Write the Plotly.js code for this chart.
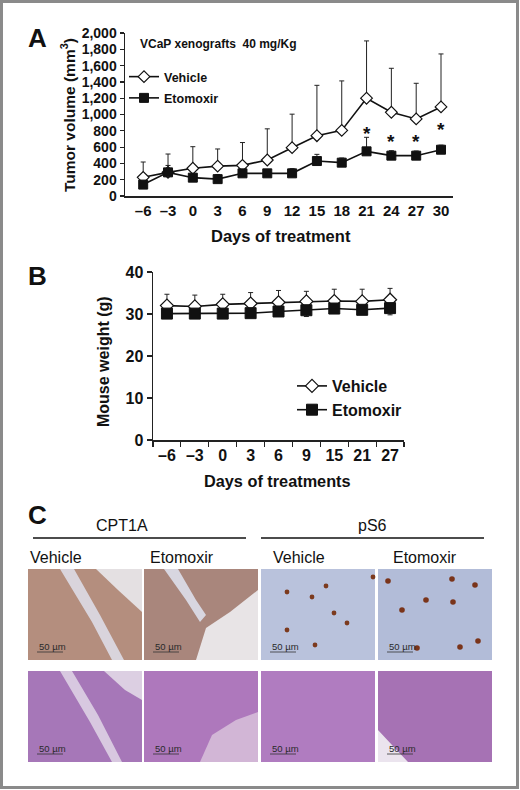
<!DOCTYPE html>
<html>
<head>
<meta charset="utf-8">
<script src="https://cdn.plot.ly/plotly-3.0.1.min.js"></script>
<style>html,body{margin:0;padding:0;background:#fff;}#chart{width:520px;height:790px;}</style>
</head>
<body>
<div id="chart"></div>
<script>
// ---------- Panel A data: tumor volume (mm3) ----------
const daysA = [-6, -3, 0, 3, 6, 9, 12, 15, 18, 21, 24, 27, 30];
const daysALabels = ['\u20136', '\u20133', '0', '3', '6', '9', '12', '15', '18', '21', '24', '27', '30'];
const vehicleA = [229, 290, 340, 366, 376, 442, 593, 740, 805, 1200, 1027, 946, 1093];
const vehicleAErr = [188, 225, 265, 211, 280, 382, 411, 618, 607, 703, 540, 437, 650];
const etomoxirA = [140, 290, 225, 207, 278, 278, 278, 429, 409, 548, 495, 495, 568];
const etomoxirAErr = [20, 85, 20, 57, 25, 45, 57, 82, 57, 172, 61, 57, 56];
const sigDays = [21, 24, 27, 30];
const sigY = [818, 720, 720, 859];

// ---------- Panel B data: mouse weight (g) ----------
const daysB = ['\u20136', '\u20133', '0', '3', '6', '9', '15', '21', '27'];
const vehicleB = [32.0, 31.8, 32.3, 32.5, 32.8, 33.0, 33.1, 33.0, 33.4];
const vehicleBErr = [2.7, 2.7, 2.4, 2.6, 2.8, 2.4, 2.8, 2.9, 2.7];
const etomoxirB = [30.1, 30.1, 30.1, 30.2, 30.6, 30.9, 31.3, 31.0, 31.4];
const etomoxirBErr = [0.8, 0.8, 0.8, 0.8, 0.9, 1.5, 1.0, 1.0, 1.6];

// ---------- Panel C labels ----------
const stainLabels = ['CPT1A', 'pS6'];
const treatLabels = ['Vehicle', 'Etomoxir', 'Vehicle', 'Etomoxir'];
const scaleLabel = '50 \u00b5m';

const W = 520, H = 790;
const FONT = 'Liberation Sans, Arial, Helvetica, sans-serif';
const fx = p => p / W;
const fy = p => 1 - p / H;
const zeros = n => new Array(n).fill(0);

const errStyle = {color: '#222', thickness: 1, width: 2.5};

const traces = [
  {
    x: daysA, y: vehicleA, name: 'Vehicle', type: 'scatter', mode: 'lines+markers',
    xaxis: 'x', yaxis: 'y', legend: 'legend', legendgroup: 'a1',
    line: {color: '#111', width: 1.6},
    marker: {symbol: 'diamond', size: 9, color: '#fff', line: {color: '#111', width: 1.2}},
    error_y: Object.assign({type: 'data', symmetric: false, array: vehicleAErr, arrayminus: zeros(daysA.length)}, errStyle)
  },
  {
    x: daysA, y: etomoxirA, name: 'Etomoxir', type: 'scatter', mode: 'lines+markers',
    xaxis: 'x', yaxis: 'y', legend: 'legend', legendgroup: 'a2',
    line: {color: '#111', width: 1.6},
    marker: {symbol: 'square', size: 9, color: '#111', line: {color: '#111', width: 1}},
    error_y: Object.assign({type: 'data', symmetric: false, array: etomoxirAErr, arrayminus: zeros(daysA.length)}, errStyle)
  },
  {
    x: daysB, y: vehicleB, name: 'Vehicle', type: 'scatter', mode: 'lines+markers',
    xaxis: 'x2', yaxis: 'y2', legend: 'legend2', legendgroup: 'b1',
    line: {color: '#111', width: 1.6},
    marker: {symbol: 'diamond', size: 10, color: '#fff', line: {color: '#111', width: 1.2}},
    error_y: Object.assign({type: 'data', symmetric: false, array: vehicleBErr, arrayminus: zeros(daysB.length)}, errStyle)
  },
  {
    x: daysB, y: etomoxirB, name: 'Etomoxir', type: 'scatter', mode: 'lines+markers',
    xaxis: 'x2', yaxis: 'y2', legend: 'legend2', legendgroup: 'b2',
    line: {color: '#111', width: 1.6},
    marker: {symbol: 'square', size: 11, color: '#111', line: {color: '#111', width: 1}},
    error_y: Object.assign({type: 'data', symmetric: false, array: zeros(daysB.length), arrayminus: etomoxirBErr}, errStyle)
  }
];

const axisCommon = {
  showgrid: false, zeroline: false, showline: true, linecolor: '#222', linewidth: 1.5,
  tickcolor: '#222', tickwidth: 1.2, fixedrange: true
};

// Panel C geometry (pixels)
const colX = [[28, 142], [144, 258], [261, 375], [378, 492]];
const rowY = [[569, 660], [671, 762]];
const imgColors = [
  ['#b48e7e', '#a9867c', '#b9c2dc', '#b2bcd8'],
  ['#a677b8', '#ae78bc', '#b07cc0', '#a672b4']
];

const shapes = [];
const annotations = [];
const rectPx = (x0, y0, x1, y1, fill, line) => ({
  type: 'rect', xref: 'paper', yref: 'paper',
  x0: fx(x0), x1: fx(x1), y0: fy(y1), y1: fy(y0),
  fillcolor: fill, line: line || {width: 0}, layer: 'above'
});
const pathPx = (pts, fill) => ({
  type: 'path', xref: 'paper', yref: 'paper', layer: 'above',
  path: 'M ' + pts.map(p => fx(p[0]).toFixed(5) + ',' + fy(p[1]).toFixed(5)).join(' L ') + ' Z',
  fillcolor: fill, line: {width: 0}
});
const circPx = (cx, cy, r, fill) => ({
  type: 'circle', xref: 'paper', yref: 'paper', layer: 'above',
  x0: fx(cx - r), x1: fx(cx + r), y0: fy(cy + r), y1: fy(cy - r),
  fillcolor: fill, line: {width: 0}
});
const textPx = (x, y, text, size, weight, xanchor, color) => ({
  xref: 'paper', yref: 'paper', x: fx(x), y: fy(y), text: text, showarrow: false,
  xanchor: xanchor || 'center', yanchor: 'middle',
  font: {family: FONT, size: size, color: color || '#111', weight: weight || 400}
});

// figure frame
shapes.push({type: 'rect', xref: 'paper', yref: 'paper', x0: fx(1.5), x1: fx(517.5), y0: fy(787.5), y1: fy(1.5),
  line: {color: '#8a8a8a', width: 3}, fillcolor: 'rgba(0,0,0,0)', layer: 'above'});

// image tiles
rowY.forEach((ry, r) => {
  colX.forEach((cx, c) => {
    shapes.push(rectPx(cx[0], ry[0], cx[1], ry[1], imgColors[r][c]));
  });
});
// tissue gaps (light areas) to suggest the micrographs
shapes.push(pathPx([[60,569],[74,569],[100,615],[124,660],[112,660],[92,622]], '#d9d4dc'));
shapes.push(pathPx([[96,569],[142,569],[142,612],[118,590]], '#e4e0e2'));
shapes.push(pathPx([[164,569],[178,569],[196,600],[206,615],[200,622],[186,600]], '#d8d6e0'));
shapes.push(pathPx([[196,660],[206,628],[230,612],[258,590],[258,660]], '#e8e4e6'));
shapes.push(pathPx([[60,671],[72,671],[98,715],[122,762],[112,762],[90,722]], '#d8c8e0'));
shapes.push(pathPx([[104,671],[142,671],[142,700],[125,690]], '#dccfe2'));
shapes.push(pathPx([[200,762],[212,735],[236,720],[258,712],[258,762]], '#d2b6d6'));
shapes.push(pathPx([[378,730],[392,745],[408,762],[378,762]], '#ebe4ee'));
// stained nuclei (pS6)
[[326,586],[373,577],[287,592],[312,597],[287,630],[347,623],[315,645],[334,613]].forEach(p => shapes.push(circPx(p[0], p[1], 2.4, '#7c3a1e')));
[[388,581],[452,579],[475,585],[426,600],[453,602],[402,610],[478,641],[460,647],[417,648]].forEach(p => shapes.push(circPx(p[0], p[1], 2.8, '#7a341a')));

// separator lines under stain names
shapes.push({type: 'line', xref: 'paper', yref: 'paper', x0: fx(33), x1: fx(246), y0: fy(538), y1: fy(538), line: {color: '#111', width: 1.3}});
shapes.push({type: 'line', xref: 'paper', yref: 'paper', x0: fx(261), x1: fx(484), y0: fy(538), y1: fy(538), line: {color: '#111', width: 1.3}});

// panel letters
annotations.push(textPx(37.5, 38, 'A', 26, 700));
annotations.push(textPx(37.5, 276, 'B', 26, 700));
annotations.push(textPx(37.5, 514.5, 'C', 26, 700));

// significance asterisks (placed from data)
sigDays.forEach((d, i) => annotations.push({
  xref: 'x', yref: 'y', x: d, y: sigY[i], text: '*', showarrow: false,
  xanchor: 'center', yanchor: 'middle', yshift: -4,
  font: {family: FONT, size: 19, color: '#111', weight: 700}
}));

// Panel A texts
annotations.push(textPx(138, 44, 'VCaP xenografts\u00a0\u00a040 mg/Kg', 12, 700, 'left'));
annotations.push(Object.assign(textPx(68, 115, 'Tumor volume (mm<sup>3</sup>)', 15.5, 700), {textangle: -90}));
annotations.push(textPx(281, 236, 'Days of treatment', 16.5, 700));

// Panel B texts
annotations.push(Object.assign(textPx(103, 362, 'Mouse weight (g)', 16, 700), {textangle: -90}));
annotations.push(textPx(277, 481, 'Days of treatments', 16.3, 700));

// Panel C texts
annotations.push(textPx(121.5, 525, stainLabels[0], 16, 400));
annotations.push(textPx(372.5, 525, stainLabels[1], 16, 400));
const treatX = [28, 148, 271, 391];
treatLabels.forEach((t, i) => annotations.push(textPx(treatX[i], 557, t, 16, 400, 'left')));
rowY.forEach((ry, r) => {
  colX.forEach((cx, c) => {
    annotations.push(textPx(cx[0] + 9, ry[1] - 14, scaleLabel, 9.5, 400, 'left', '#2a2a2a'));
    shapes.push({type: 'line', xref: 'paper', yref: 'paper', x0: fx(cx[0] + 9), x1: fx(cx[0] + 35), y0: fy(ry[1] - 8), y1: fy(ry[1] - 8), line: {color: '#333', width: 0.8}, layer: 'above'});
  });
});

const layout = {
  width: W, height: H,
  margin: {l: 0, r: 0, t: 0, b: 0},
  paper_bgcolor: '#fff', plot_bgcolor: 'rgba(0,0,0,0)',
  font: {family: FONT, color: '#111'},
  xaxis: Object.assign({}, axisCommon, {
    domain: [fx(125), fx(453)], range: [-8.2, 31.45], anchor: 'y',
    tickmode: 'array', tickvals: daysA, ticktext: daysALabels, ticks: '',
    tickfont: {family: FONT, size: 15, weight: 700, color: '#111'}
  }),
  yaxis: Object.assign({}, axisCommon, {
    domain: [fy(196), fy(33)], range: [0, 2000], anchor: 'x',
    dtick: 200, tickformat: ',d', ticks: 'outside', ticklen: 4,
    tickfont: {family: FONT, size: 14, weight: 700, color: '#111'}
  }),
  xaxis2: Object.assign({}, axisCommon, {
    domain: [fx(153), fx(404)], type: 'category', categoryorder: 'array', categoryarray: daysB,
    range: [-0.5, 8.5], anchor: 'y2', ticks: 'outside', ticklen: 5, tickson: 'boundaries',
    tickfont: {family: FONT, size: 16, weight: 700, color: '#111'}
  }),
  yaxis2: Object.assign({}, axisCommon, {
    domain: [fy(440), fy(272)], range: [0, 40], anchor: 'x2',
    dtick: 10, ticks: 'outside', ticklen: 5,
    tickfont: {family: FONT, size: 16, weight: 700, color: '#111'}
  }),
  legend: {
    x: fx(124), y: fy(62), xanchor: 'left', yanchor: 'top', bgcolor: 'rgba(0,0,0,0)',
    font: {family: FONT, size: 12.5, weight: 700, color: '#111'}, tracegroupgap: 2
  },
  legend2: {
    x: fx(292), y: fy(369), xanchor: 'left', yanchor: 'top', bgcolor: 'rgba(0,0,0,0)',
    font: {family: FONT, size: 16, weight: 700, color: '#111'}, tracegroupgap: 0
  },
  shapes: shapes,
  annotations: annotations,
  showlegend: true
};

Plotly.newPlot('chart', traces, layout, {displayModeBar: false, staticPlot: true});
</script>
</body>
</html>
